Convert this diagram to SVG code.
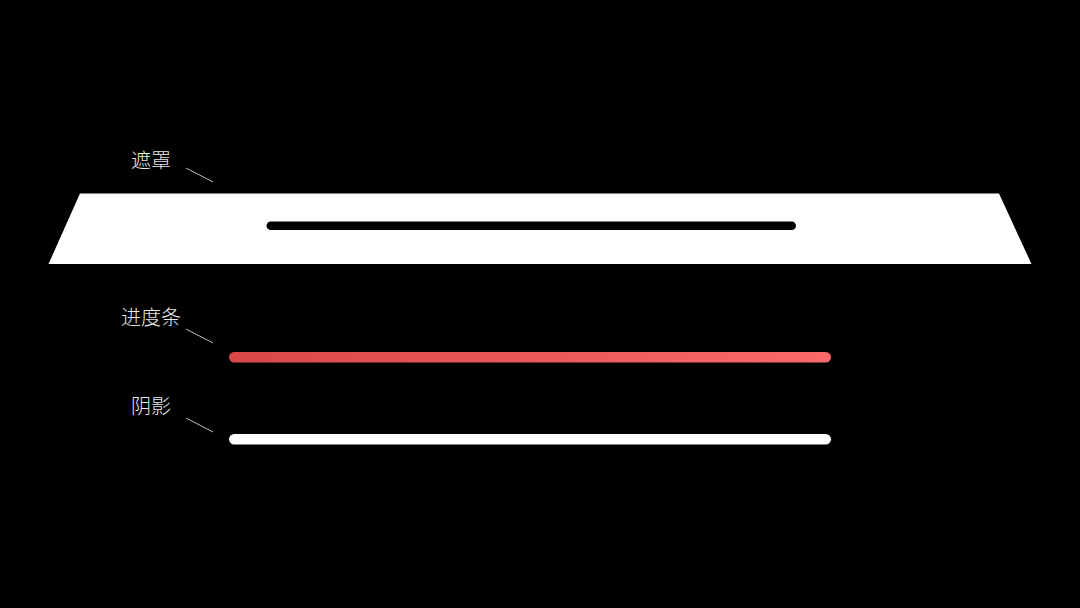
<svg xmlns="http://www.w3.org/2000/svg" width="1080" height="608" viewBox="0 0 1080 608">
<defs>
<style>
.lbl{font-family:"Noto Sans CJK SC","Noto Sans",sans-serif;font-size:20px;font-weight:300;fill:#e8e8e8;text-anchor:middle}
.lead{stroke:#bdbdbd;stroke-width:1;fill:none}
</style>
<linearGradient id="red" x1="0" y1="0" x2="1" y2="0">
<stop offset="0" stop-color="#d94848"/>
<stop offset="1" stop-color="#fa6a6a"/>
</linearGradient>
</defs>
<rect width="1080" height="608" fill="#000"/>
<g id="mask">
<polygon points="80,193.5 999,193.5 1031.5,264 48.5,264" fill="#fff"/>
<rect x="266.5" y="221.5" width="529.5" height="8.5" rx="4.25" fill="#000"/>
</g>
<g id="progress">
<rect x="229" y="352" width="602" height="10.5" rx="5.25" fill="url(#red)"/>
</g>
<g id="shadow">
<rect x="229" y="434" width="602" height="10.5" rx="5.25" fill="#fff"/>
</g>
<g id="label-mask"><text class="lbl" x="151" y="168">遮罩</text></g>
<g id="label-progress"><text class="lbl" x="151" y="325">进度条</text></g>
<g id="label-shadow"><text class="lbl" x="151" y="414">阴影</text></g>
<g id="connectors">
<line class="lead" x1="186" y1="168" x2="213" y2="182"/>
<line class="lead" x1="186" y1="329" x2="213" y2="343"/>
<line class="lead" x1="186" y1="418" x2="213" y2="432"/>
</g>
</svg>
